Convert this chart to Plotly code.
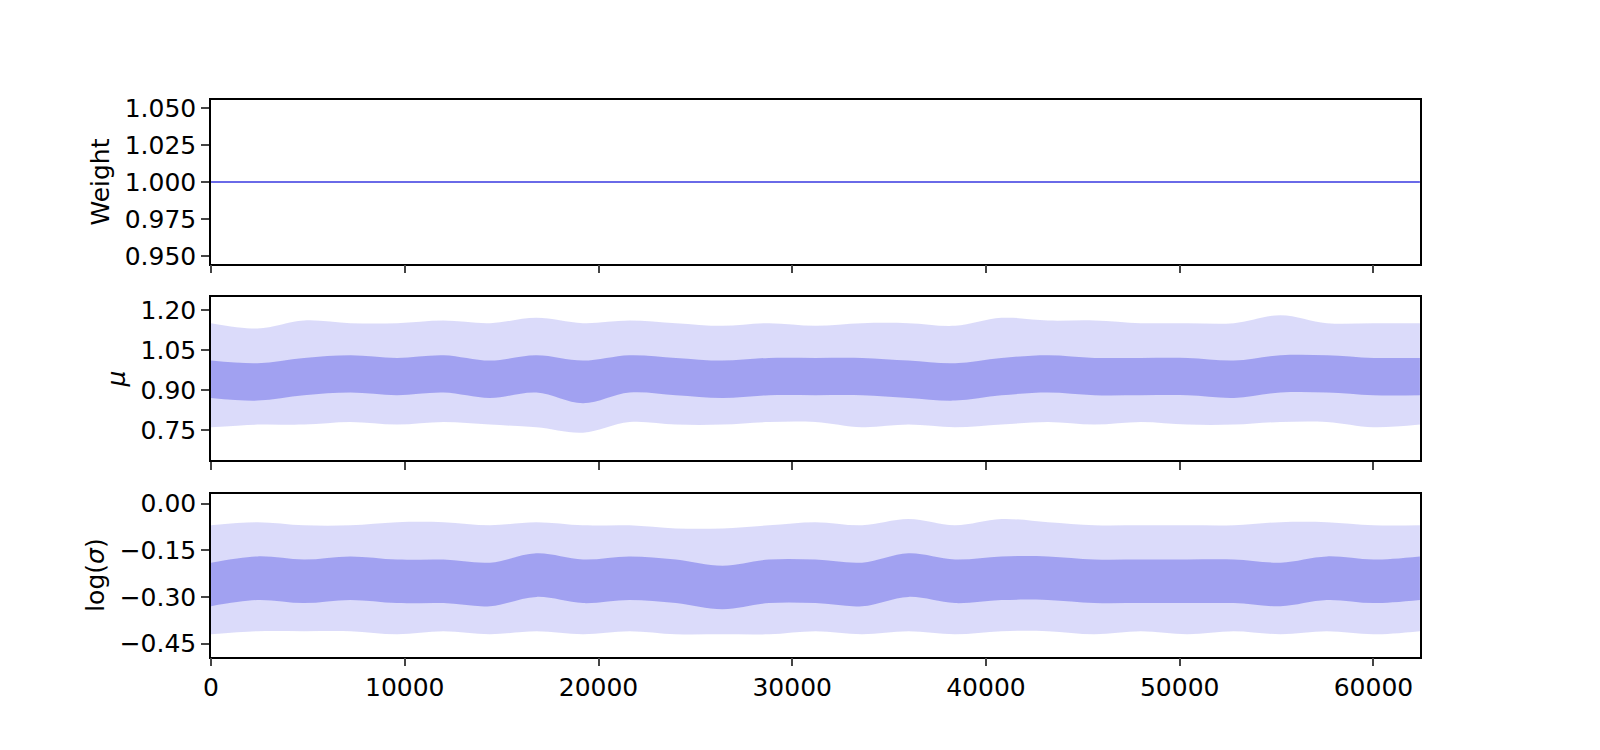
import plotly.graph_objects as go

# bin edges (iteration), one value per bin
bin_start = [0, 2400, 4800, 7200, 9600, 12000, 14400, 16800, 19200, 21600, 24000, 26400, 28800,
             31200, 33600, 36000, 38400, 40800, 43200, 45600, 48000, 50400, 52800, 55200, 57600, 60000, 62400]
weight = [1.0] * 27

mu_center = [0.94, 0.93, 0.95, 0.96, 0.95, 0.96, 0.94, 0.96, 0.93, 0.96, 0.95, 0.94, 0.95,
             0.95, 0.95, 0.94, 0.93, 0.95, 0.96, 0.95, 0.95, 0.95, 0.94, 0.96, 0.96, 0.95, 0.95]
mu_core = [0.07, 0.07, 0.07, 0.07, 0.07, 0.07, 0.07, 0.07, 0.08, 0.07, 0.07, 0.07, 0.07,
           0.07, 0.07, 0.07, 0.07, 0.07, 0.07, 0.07, 0.07, 0.07, 0.07, 0.07, 0.07, 0.07, 0.07]
mu_high = [1.15, 1.13, 1.16, 1.15, 1.15, 1.16, 1.15, 1.17, 1.15, 1.16, 1.15, 1.14, 1.15,
           1.14, 1.15, 1.15, 1.14, 1.17, 1.16, 1.16, 1.15, 1.15, 1.15, 1.18, 1.15, 1.15, 1.15]
mu_low = [0.76, 0.77, 0.77, 0.78, 0.77, 0.78, 0.77, 0.76, 0.74, 0.78, 0.77, 0.77, 0.78,
          0.78, 0.76, 0.77, 0.76, 0.77, 0.78, 0.77, 0.78, 0.77, 0.77, 0.78, 0.78, 0.76, 0.77]

ls_center = [-0.26, -0.24, -0.25, -0.24, -0.25, -0.25, -0.26, -0.23, -0.25, -0.24, -0.25, -0.27, -0.25,
             -0.25, -0.26, -0.23, -0.25, -0.24, -0.24, -0.25, -0.25, -0.25, -0.25, -0.26, -0.24, -0.25, -0.24]
ls_core = [0.07] * 27
ls_high = [-0.07, -0.06, -0.07, -0.07, -0.06, -0.06, -0.07, -0.06, -0.07, -0.07, -0.08, -0.08, -0.07,
           -0.06, -0.07, -0.05, -0.07, -0.05, -0.06, -0.07, -0.07, -0.07, -0.07, -0.06, -0.06, -0.07, -0.07]
ls_low = [-0.42, -0.41, -0.41, -0.41, -0.42, -0.41, -0.42, -0.41, -0.42, -0.41, -0.42, -0.42, -0.42,
          -0.41, -0.42, -0.41, -0.42, -0.41, -0.41, -0.42, -0.41, -0.42, -0.41, -0.42, -0.41, -0.42, -0.41]

x_ticks = [0, 10000, 20000, 30000, 40000, 50000, 60000]
x_tick_text = ["0", "10000", "20000", "30000", "40000", "50000", "60000"]

C = "rgba(90,90,230,"
fig = go.Figure()

def band(lo, hi, alpha, xa, ya):
    fig.add_trace(go.Scatter(x=bin_start, y=hi, mode="lines", line=dict(width=0, shape="spline"),
                             xaxis=xa, yaxis=ya, showlegend=False, hoverinfo="skip"))
    fig.add_trace(go.Scatter(x=bin_start, y=lo, mode="lines", line=dict(width=0, shape="spline"),
                             fill="tonexty", fillcolor=C + f"{alpha})", xaxis=xa, yaxis=ya,
                             showlegend=False, hoverinfo="skip"))

fig.add_trace(go.Scatter(x=bin_start, y=weight, mode="lines", line=dict(color=C + "0.9)", width=2),
                         xaxis="x", yaxis="y", showlegend=False))
band(mu_low, mu_high, 0.22, "x2", "y2")
band([c - w for c, w in zip(mu_center, mu_core)], [c + w for c, w in zip(mu_center, mu_core)], 0.45, "x2", "y2")
band(ls_low, ls_high, 0.22, "x3", "y3")
band([c - w for c, w in zip(ls_center, ls_core)], [c + w for c, w in zip(ls_center, ls_core)], 0.45, "x3", "y3")

font = dict(family="DejaVu Sans", size=25, color="black")
ax = dict(showline=True, linecolor="black", linewidth=1.5, mirror=True, ticks="outside",
          ticklen=8, tickwidth=1.5, showgrid=False, zeroline=False, tickfont=font)
xd = [196 / 1600, 1411 / 1600]
xcommon = dict(ax, range=[0, 62400], tickvals=x_ticks, ticktext=x_tick_text, domain=xd)
fig.update_layout(
    width=1600, height=750, margin=dict(l=0, r=0, t=0, b=0),
    plot_bgcolor="white", paper_bgcolor="white", font=font,
    xaxis=dict(xcommon, anchor="y", showticklabels=False),
    xaxis2=dict(xcommon, anchor="y2", showticklabels=False, matches="x"),
    xaxis3=dict(xcommon, anchor="y3", matches="x"),
    yaxis=dict(ax, domain=[1 - 254 / 750, 1 - 88 / 750], range=[0.9447, 1.0553],
               tickvals=[0.95, 0.975, 1.0, 1.025, 1.05], tickformat=".3f",
               title=dict(text="Weight", font=font, standoff=8), anchor="x"),
    yaxis2=dict(ax, domain=[1 - 454 / 750, 1 - 288 / 750], range=[0.637, 1.248],
                tickvals=[0.75, 0.9, 1.05, 1.2], tickformat=".2f",
                title=dict(text="<i>μ</i>", font=font, standoff=8), anchor="x2"),
    yaxis3=dict(ax, domain=[1 - 654 / 750, 1 - 488 / 750], range=[-0.492, 0.032],
                tickvals=[-0.45, -0.3, -0.15, 0.0], tickformat=".2f",
                title=dict(text="log(<i>σ</i>)", font=font, standoff=8), anchor="x3"),
)
fig.write_html("out.html")
